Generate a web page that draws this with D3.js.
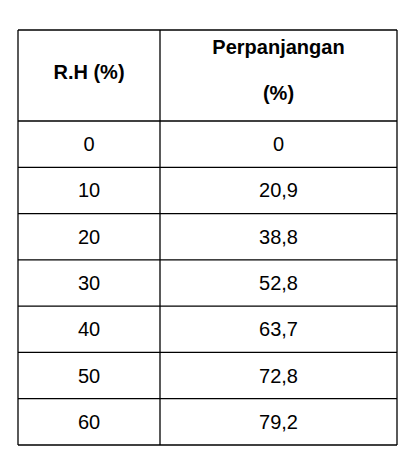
<!DOCTYPE html>
<html><head><meta charset="utf-8">
<script src="https://cdn.jsdelivr.net/npm/d3@7"></script>
<style>body{margin:0;background:#fff}</style>
</head><body><svg id="c" width="417" height="473"></svg>
<script>
const rh = ["0", "10", "20", "30", "40", "50", "60"]
const perpanjangan = ["0", "20,9", "38,8", "52,8", "63,7", "72,8", "79,2"]
const headers = [["R.H (%)"], ["Perpanjangan", "(%)"]]

const svg = d3.select("#c")
const xLeft = 18, xMid = 160, xRight = 397, yTop = 30, yHead = 121, yBottom = 445

// row bands below the header
const y = d3.scaleBand().domain(d3.range(rh.length)).range([yHead, yBottom])
const cols = [[xLeft, xMid], [xMid, xRight]]

const g = svg.append("g").attr("font-family", "Liberation Sans, Arial, sans-serif")

// grid lines
const hl = [yTop, yHead, ...d3.range(rh.length).map(i => y(i) + y.bandwidth())]
g.selectAll("line.h").data(hl).enter().append("line")
    .attr("x1", xLeft).attr("x2", xRight).attr("y1", d => d).attr("y2", d => d)
    .attr("stroke", "#000").attr("stroke-width", 1.3)
g.selectAll("line.v").data([xLeft, xMid, xRight]).enter().append("line")
    .attr("x1", d => d).attr("x2", d => d).attr("y1", yTop).attr("y2", yBottom)
    .attr("stroke", "#000").attr("stroke-width", 1.3)

// header
g.append("text").text(headers[0][0]).attr("x", (xLeft + xMid) / 2).attr("y", 79)
    .attr("text-anchor", "middle").attr("font-weight", "bold").attr("font-size", 20)
headers[1].forEach((t, i) => {
    g.append("text").text(t).attr("x", (xMid + xRight) / 2).attr("y", 54 + i * 46)
        .attr("text-anchor", "middle").attr("font-weight", "bold").attr("font-size", 20)
})

// body
const rows = rh.map((d, i) => [d, perpanjangan[i]])
rows.forEach((r, i) => {
    r.forEach((t, j) => {
        g.append("text").text(t)
            .attr("x", (cols[j][0] + cols[j][1]) / 2)
            .attr("y", y(i) + y.bandwidth() / 2 + 7)
            .attr("text-anchor", "middle").attr("font-size", 20)
    })
})
</script></body></html>
